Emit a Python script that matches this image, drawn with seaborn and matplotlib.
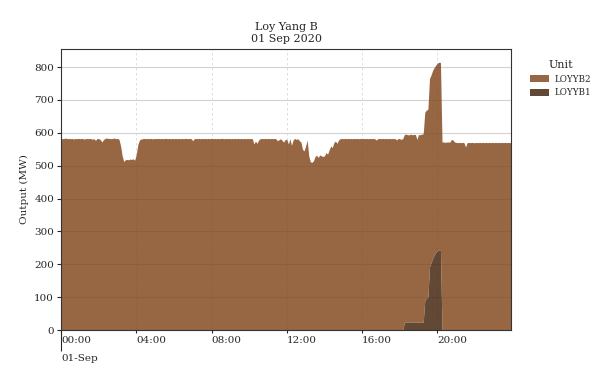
import numpy as np
import pandas as pd
import matplotlib
matplotlib.use("Agg")
import matplotlib.pyplot as plt
import matplotlib.dates as mdates
import seaborn as sns

# ---- data (5-minute output, MW) ----
title = "Loy Yang B\n01 Sep 2020"
units = ["LOYYB2", "LOYYB1"]
start = "2020-09-01 00:00"

loyyb2 = (
    [583,582,583,584,582,583,582,583,581,583,582,583] +
    [582,583,582,581,583,582,583,582,581,582,577,583] +
    [582,580,572,579,583,584,583,583,582,583,584,582] +
    [583,580,560,530,513,518,519,518,520,519,521,517] +
    [535,565,578,581,582,583,582,583,582,583,582,582] +
    [583,582,583,582,583,582,583,583,582,583,582,583] +
    [582,583,582,583,582,583,582,583,583,582,583,582] +
    [576,582,583,582,583,582,583,582,583,582,583,582] +
    [583,582,583,582,583,582,583,583,582,583,582,583] +
    [582,583,582,583,582,583,582,583,582,583,582,583] +
    [582,583,582,566,575,568,578,582,583,582,583,582] +
    [583,582,583,582,583,582,576,579,582,577,572,580] +
    [580,566,582,562,578,583,580,582,576,572,550,545] +
    [560,578,530,512,510,515,528,532,525,533,530,528] +
    [530,540,535,548,560,555,570,575,568,578,582,583] +
    [582,583,582,583,582,583,582,583,582,583,582,583] +
    [582,583,582,583,582,583,582,583,582,578,582,583] +
    [582,583,582,583,582,583,582,583,582,583,578,583] +
    [582,580,583,571,572,570,571,572,570,572,571,556] +
    [571,570,572,573,573,572,572,573,571,572,571,570] +
    [571,572,572,572,572,571,572,572,572,580,578,572] +
    [571,570,571,570,571,570,557,570,571,570,571,570] +
    [570,571,570,571,570,571,570,571,570,571,570,571] +
    [570,571,570,571,570,571,570,571,570,571,570,571]
)

loyyb1 = (
    [0]*12*18 +
    [0,0,0,24,24,24,23,24,24,23,24,24] +
    [24,24,24,24,90,97,100,192,205,218,228,236] +
    [241,243,242,0,0,0,0,0,0,0,0,0] +
    [0]*12*3
)

colors = {"LOYYB2": "#80461b", "LOYYB1": "#3f210a"}

times = pd.date_range(start, periods=len(loyyb2), freq="5min")
df = pd.DataFrame({"time": times, "LOYYB2": loyyb2, "LOYYB1": loyyb1})

sns.set_theme(style="ticks")
serif = ["DejaVu Serif"]
plt.rcParams["font.family"] = serif

fig = plt.figure(figsize=(6, 3.75), dpi=100)
ax = fig.add_axes([0.1017, 0.12, 0.75, 0.7493])

polys = ax.stackplot(df["time"], df["LOYYB1"], df["LOYYB2"],
                     colors=[colors["LOYYB1"], colors["LOYYB2"]],
                     alpha=0.82, labels=["LOYYB1", "LOYYB2"], zorder=2, lw=0)
sns.lineplot(data=df, x="time", y="LOYYB1", ax=ax, lw=0, legend=False)

ax.set_xlim(times[0], times[-1])
ax.set_ylim(0, 855)
ax.set_yticks(range(0, 900, 100))

ax.grid(axis="y", color="#d2d2d2", lw=0.8, zorder=0)
ax.set_axisbelow(True)

ax.xaxis.set_major_locator(mdates.DayLocator())
ax.xaxis.set_major_formatter(mdates.DateFormatter("%d-%b"))
ax.xaxis.set_minor_locator(mdates.HourLocator(byhour=range(0, 24, 4)))
ax.xaxis.set_minor_formatter(mdates.DateFormatter("%H:%M"))
ax.xaxis.remove_overlapping_locs = False
ax.grid(axis="x", which="minor", color="#d8d8d8", lw=0.6, ls=(0, (3, 3)), zorder=0)
ax.tick_params(axis="x", which="major", length=15, width=0.8, pad=2, labelsize=7.5)
ax.tick_params(axis="x", which="minor", length=2.5, width=0.8, pad=2, labelsize=7.5)
ax.tick_params(axis="y", length=3, width=0.8, labelsize=7.5, pad=2)
for lbl in ax.get_xticklabels(which="minor"):
    lbl.set_horizontalalignment("left")
for lbl in ax.get_xticklabels(which="major"):
    lbl.set_horizontalalignment("left")

for s in ax.spines.values():
    s.set_color("#333333")
    s.set_linewidth(0.8)

ax.set_xlabel("")
ax.set_ylabel("Output (MW)", fontsize=7.5)
ax.set_title(title, fontsize=8, pad=5, linespacing=1.25)

handles = [polys[1], polys[0]]
leg = ax.legend(handles, ["LOYYB2", "LOYYB1"], title="Unit", loc="upper left",
                bbox_to_anchor=(1.025, 0.99), frameon=False, fontsize=6.3,
                title_fontsize=8, handlelength=2.2, handleheight=0.9,
                handletextpad=0.6, labelspacing=0.55)

fig.savefig("out.png", dpi=100)
